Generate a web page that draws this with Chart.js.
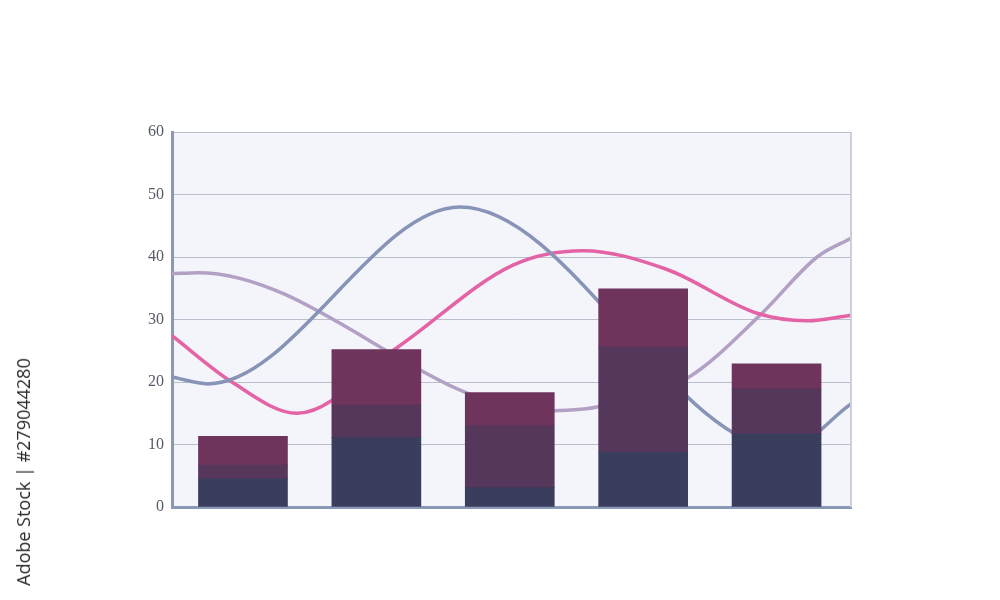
<!DOCTYPE html>
<html lang="en">
<head>
 <meta charset="UTF-8">
 <title>Stacked bars with curves</title>
 <script src="https://cdn.jsdelivr.net/npm/chart.js"></script>
 <style>
 body {
 margin: 0;
 background: #fff;
 }
 .wrap {
 position: relative;
 width: 1000px;
 height: 600px;
 }
 .stock-id {
 position: absolute;
 left: 23px;
 top: 472px;
 transform: translate(-50%, -50%) rotate(-90deg);
 font-family: 'Open Sans', sans-serif;
 font-size: 18px;
 color: #2a2a2a;
 white-space: nowrap;
 }
 </style>
</head>
<body>
 <div class="wrap">
 <canvas id="chart" width="1000" height="600"></canvas>
 <div class="stock-id">Adobe Stock | #279044280</div>
 </div>
 <script>
 // bar positions on the x scale, one per column
 let categories = [1, 2, 3, 4, 5];
 let barBottom = [4.5, 11.1, 3.1, 8.8, 11.7];
 let barMiddle = [2.2, 5.2, 9.9, 16.8, 7.2];
 let barTop = [4.6, 8.9, 5.3, 9.3, 4.0];
 let yTicks = [0, 10, 20, 30, 40, 50, 60];

 // curves: x positions (same units as categories) and values
 let blueX = [0.468, 0.738, 2.627, 5.064, 5.558];
 let blueY = [20.8, 19.7, 48, 9.2, 16.5];
 let pinkX = [0.468, 0.917, 1.405, 2.162, 3.024, 3.549, 4.179, 4.854, 5.229, 5.558];
 let pinkY = [27.4, 20, 15, 25.6, 38.7, 41, 38, 31, 29.8, 30.7];
 let lilacX = [0.468, 0.663, 3.26, 3.654, 4.33, 4.877, 5.304, 5.558];
 let lilacY = [37.3, 37.5, 15.4, 16, 20.6, 30.7, 40, 43];

 function pts(xs, ys) {
   return xs.map((x, i) => ({ x: x, y: ys[i] }));
 }

 function barSet(values, color) {
   return {
     type: 'bar',
     data: pts(categories, values),
     backgroundColor: color,
     borderWidth: 0,
     barThickness: 89,
     order: 0
   };
 }

 function curve(xs, ys, color, n) {
   return {
     type: 'line',
     data: pts(xs, ys),
     borderColor: color,
     borderWidth: 3.5,
     pointRadius: 0,
     fill: false,
     cubicInterpolationMode: 'monotone',
     stack: 'curve' + n,
     order: n
   };
 }

 // plot background + thin right edge
 const plotFrame = {
   id: 'plotFrame',
   beforeDraw(chart) {
     let a = chart.chartArea;
     let ctx = chart.ctx;
     ctx.save();
     ctx.fillStyle = '#f4f4fb';
     ctx.fillRect(a.left, a.top, a.right - a.left, a.bottom - a.top);
     ctx.restore();
   },
   afterDraw(chart) {
     let a = chart.chartArea;
     let ctx = chart.ctx;
     ctx.save();
     ctx.strokeStyle = '#cbcfdb';
     ctx.lineWidth = 2;
     ctx.beginPath();
     ctx.moveTo(a.right, a.top);
     ctx.lineTo(a.right, a.bottom);
     ctx.stroke();
     ctx.restore();
   }
 };

 new Chart(document.getElementById('chart'), {
   data: {
     datasets: [
       barSet(barBottom, '#3a3d5c'),
       barSet(barMiddle, '#54375b'),
       barSet(barTop, '#6e345c'),
       curve(lilacX, lilacY, '#b3a1c5', 3),
       curve(pinkX, pinkY, '#e463a5', 2),
       curve(blueX, blueY, '#8794b8', 1)
     ]
   },
   options: {
     responsive: false,
     animation: false,
     layout: { padding: { left: 0, top: 132, right: 149, bottom: 93 } },
     plugins: {
       legend: { display: false },
       tooltip: { enabled: false }
     },
     scales: {
       x: {
         type: 'linear',
         min: 0.468,
         max: 5.558,
         offset: false,
         stacked: true,
         grid: { display: false, drawTicks: false, offset: false },
         border: { display: true, color: '#8a9ab6', width: 3 },
         ticks: { display: false },
         afterFit(scale) { scale.height = 0; }
       },
       y: {
         min: 0,
         max: 60,
         stacked: true,
         afterBuildTicks(scale) { scale.ticks = yTicks.map(v => ({ value: v })); },
         grid: { color: '#b9bfcd', lineWidth: 1, drawTicks: false },
         border: { display: true, color: '#8a9ab6', width: 3 },
         ticks: {
           padding: 8,
           color: '#555a66',
           font: { family: "'Liberation Serif', serif", size: 16 }
         },
         afterFit(scale) { scale.width = 172; }
       }
     }
   },
   plugins: [plotFrame]
 });
 </script>
</body>
</html>
